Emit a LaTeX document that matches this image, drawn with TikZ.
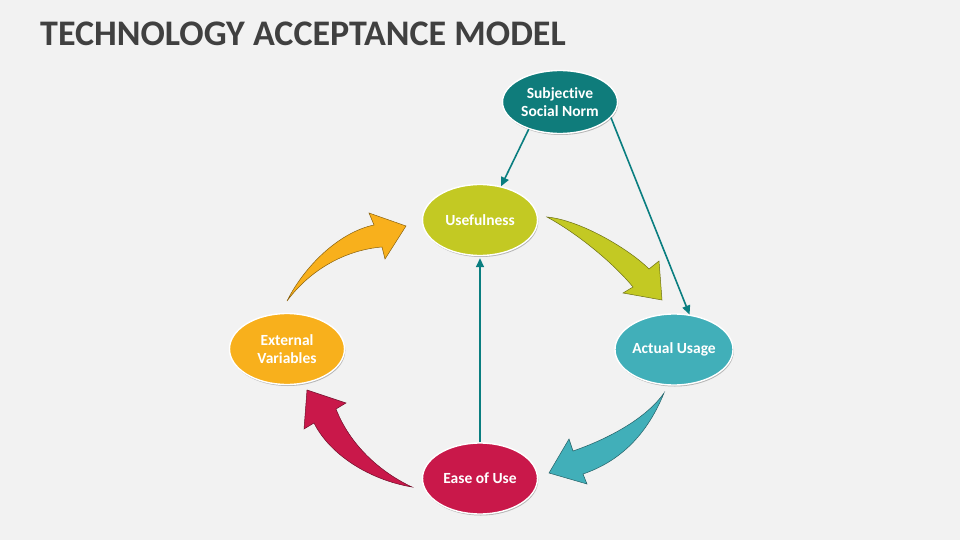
\documentclass[tikz,border=0pt]{standalone}
\usepackage{fontspec}
\setmainfont{Carlito}[Ligatures={CommonOff}]
\usetikzlibrary{shapes.geometric,arrows.meta,shadows}
\definecolor{bgc}{HTML}{F2F2F2}
\definecolor{titlec}{HTML}{404040}
\definecolor{ssnc}{HTML}{0F7C7B}
\definecolor{usec}{HTML}{C3C923}
\definecolor{actc}{HTML}{41AFB9}
\definecolor{extc}{HTML}{F8B01C}
\definecolor{eouc}{HTML}{C9184A}
\definecolor{linec}{HTML}{0A7E80}
\tikzset{
  oval/.style={ellipse, draw=white, line width=1.4pt, minimum width=115pt, minimum height=71pt,
    inner sep=0pt, text=white, font=\bfseries\fontsize{15.5}{18.5}\selectfont, align=center,
    drop shadow={shadow xshift=0.8pt, shadow yshift=-1.5pt, opacity=0.25, fill=black}},
  link/.style={draw=linec, line width=1.6pt, -{Triangle[length=9pt,width=8pt]}},
  blockarrow/.style={line width=0.5pt, line join=miter}
}
\begin{document}
\begin{tikzpicture}[x=1pt,y=-1pt]
\fill[bgc] (0,0) rectangle (960,540);
\useasboundingbox (0,0) rectangle (960,540);
\node[anchor=base west, text=titlec, font=\bfseries\fontsize{36}{40}\selectfont, inner sep=0pt] (title) at (40,46) {TECHNOLOGY ACCEPTANCE MODEL};

% block arrows
\filldraw[blockarrow, fill=extc, draw=extc!55!black]
  (287,301) .. controls (305,265) and (340,232) .. (374,225) -- (369,213) -- (406,226) -- (385,259) -- (382,247)
  .. controls (345,250) and (310,270) .. cycle;
\filldraw[blockarrow, fill=usec, draw=usec!55!black]
  (547,217) .. controls (580,220) and (629,249) .. (649,269) -- (659,261) -- (662,300) -- (623,293) -- (633,287)
  .. controls (615,265) and (580,235) .. cycle;
\filldraw[blockarrow, fill=actc, draw=actc!55!black]
  (664,393) .. controls (645,420) and (605,440) .. (573,451) -- (569,439) -- (549,473) -- (587,484) -- (583,474)
  .. controls (615,463) and (645,440) .. cycle;
\filldraw[blockarrow, fill=eouc, draw=eouc!55!black]
  (412,487) .. controls (380,472) and (350,445) .. (336,409) -- (346,403) -- (307,390) -- (304,429) -- (314,423)
  .. controls (330,455) and (370,480) .. cycle;

% nodes
\node[oval, fill=ssnc, minimum height=63pt] (ssn) at (560,102) {Subjective\\Social Norm};
\node[oval, fill=usec] (use) at (480,220) {Usefulness};
\node[oval, fill=actc] (act) at (674,349.5) {Actual Usage};
\node[oval, fill=extc] (ext) at (287,349) {External\\Variables};
\node[oval, fill=eouc] (eou) at (480,478.5) {Ease of Use};

% connectors
\draw[link] (ssn.221) -- (use.58);
\draw[link] (ssn.-17) -- (act.66);
\draw[link, shorten >=2pt] (eou) -- (use);
\end{tikzpicture}
\end{document}
